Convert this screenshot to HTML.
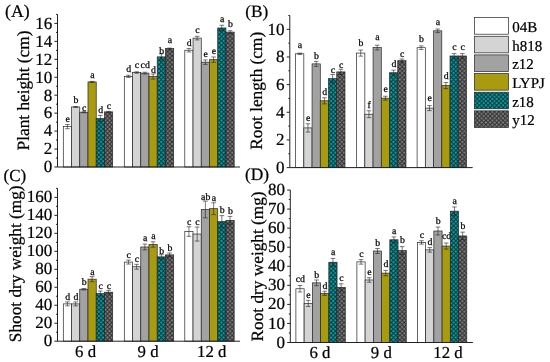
<!DOCTYPE html>
<html lang="en"><head><meta charset="utf-8"><title>Figure</title>
<style>html,body{margin:0;padding:0;background:#fff;}body{width:550px;height:362px;overflow:hidden;font-family:"Liberation Serif", "Times New Roman", serif;}</style>
</head><body>
<svg width="550" height="362" viewBox="0 0 550 362" style="display:block;font-family:'Liberation Serif', 'Times New Roman', serif">
<defs>
<pattern id="pt" width="4.3" height="4.3" patternUnits="userSpaceOnUse"><rect width="4.3" height="4.3" fill="#0fa0a2"/><path d="M0,0L4.3,4.3M4.3,0L0,4.3" stroke="#002c32" stroke-width="0.88" fill="none"/></pattern>
<pattern id="pg" width="4.3" height="4.3" patternUnits="userSpaceOnUse"><rect width="4.3" height="4.3" fill="#7e7e7e"/><path d="M0,0L4.3,4.3M4.3,0L0,4.3" stroke="#2a2a2a" stroke-width="0.95" fill="none"/></pattern>
</defs>
<rect width="550" height="362" fill="#fff"/>
<style>text{stroke:#000;stroke-width:0.22px;fill:#000;text-rendering:geometricPrecision}text.lt{stroke-width:0.25px}</style>
<g id="panelA">
<rect x="63.30" y="126.61" width="8.23" height="40.39" fill="#ffffff" stroke="#262626" stroke-width="0.7"/>
<path d="M67.41,124.50V128.72M65.11,124.50H69.71M65.11,128.72H69.71" stroke="#222" stroke-width="0.6" fill="none"/>
<text x="67.71" y="121.8" font-size="9.8" text-anchor="middle" class="lt">e</text>
<rect x="71.53" y="106.96" width="8.23" height="60.04" fill="#d4d4d4" stroke="#262626" stroke-width="0.7"/>
<path d="M75.64,106.51V107.41M73.34,106.51H77.94M73.34,107.41H77.94" stroke="#222" stroke-width="0.6" fill="none"/>
<text x="75.94" y="103.4" font-size="9.8" text-anchor="middle" class="lt">b</text>
<rect x="79.76" y="112.25" width="8.23" height="54.75" fill="#a2a2a2" stroke="#262626" stroke-width="0.7"/>
<path d="M83.87,111.71V112.79M81.57,111.71H86.17M81.57,112.79H86.17" stroke="#222" stroke-width="0.6" fill="none"/>
<text x="84.17" y="111.1" font-size="9.8" text-anchor="middle" class="lt">c</text>
<rect x="87.99" y="81.92" width="8.23" height="85.08" fill="#a99b10" stroke="#262626" stroke-width="0.7"/>
<path d="M92.10,81.38V82.46M89.80,81.38H94.40M89.80,82.46H94.40" stroke="#222" stroke-width="0.6" fill="none"/>
<text x="92.40" y="77.7" font-size="9.8" text-anchor="middle" class="lt">a</text>
<rect x="96.22" y="118.53" width="8.23" height="48.47" fill="url(#pt)" stroke="#262626" stroke-width="0.7"/>
<path d="M100.33,115.39V121.68M98.03,115.39H102.63M98.03,121.68H102.63" stroke="#222" stroke-width="0.6" fill="none"/>
<text x="100.63" y="113.0" font-size="9.8" text-anchor="middle" class="lt">d</text>
<rect x="104.45" y="111.89" width="8.23" height="55.11" fill="url(#pg)" stroke="#262626" stroke-width="0.7"/>
<path d="M108.56,111.36V112.43M106.27,111.36H110.86M106.27,112.43H110.86" stroke="#222" stroke-width="0.6" fill="none"/>
<text x="108.86" y="109.0" font-size="9.8" text-anchor="middle" class="lt">c</text>
<rect x="124.30" y="76.35" width="8.23" height="90.65" fill="#ffffff" stroke="#262626" stroke-width="0.7"/>
<path d="M128.41,75.28V77.43M126.11,75.28H130.72M126.11,77.43H130.72" stroke="#222" stroke-width="0.6" fill="none"/>
<text x="128.72" y="71.9" font-size="9.8" text-anchor="middle" class="lt">d</text>
<rect x="132.53" y="72.49" width="8.23" height="94.51" fill="#d4d4d4" stroke="#262626" stroke-width="0.7"/>
<path d="M136.65,71.78V73.21M134.34,71.78H138.95M134.34,73.21H138.95" stroke="#222" stroke-width="0.6" fill="none"/>
<text x="136.95" y="67.5" font-size="9.8" text-anchor="middle" class="lt">c</text>
<rect x="140.76" y="73.12" width="8.23" height="93.88" fill="#a2a2a2" stroke="#262626" stroke-width="0.7"/>
<path d="M144.88,72.22V74.02M142.57,72.22H147.18M142.57,74.02H147.18" stroke="#222" stroke-width="0.6" fill="none"/>
<text x="145.18" y="67.5" font-size="9.8" text-anchor="middle" class="lt">cd</text>
<rect x="148.99" y="76.53" width="8.23" height="90.47" fill="#a99b10" stroke="#262626" stroke-width="0.7"/>
<path d="M153.11,74.02V79.05M150.81,74.02H155.41M150.81,79.05H155.41" stroke="#222" stroke-width="0.6" fill="none"/>
<text x="153.41" y="73.2" font-size="9.8" text-anchor="middle" class="lt">d</text>
<rect x="157.22" y="56.88" width="8.23" height="110.12" fill="url(#pt)" stroke="#262626" stroke-width="0.7"/>
<path d="M161.34,53.74V60.02M159.03,53.74H163.64M159.03,60.02H163.64" stroke="#222" stroke-width="0.6" fill="none"/>
<text x="161.64" y="53.5" font-size="9.8" text-anchor="middle" class="lt">b</text>
<rect x="165.45" y="48.62" width="8.23" height="118.38" fill="url(#pg)" stroke="#262626" stroke-width="0.7"/>
<path d="M169.56,48.08V49.16M167.26,48.08H171.87M167.26,49.16H171.87" stroke="#222" stroke-width="0.6" fill="none"/>
<text x="169.87" y="42.7" font-size="9.8" text-anchor="middle" class="lt">a</text>
<rect x="184.80" y="50.24" width="8.23" height="116.76" fill="#ffffff" stroke="#262626" stroke-width="0.7"/>
<path d="M188.92,48.44V52.03M186.62,48.44H191.22M186.62,52.03H191.22" stroke="#222" stroke-width="0.6" fill="none"/>
<text x="189.22" y="46.0" font-size="9.8" text-anchor="middle" class="lt">d</text>
<rect x="193.03" y="38.12" width="8.23" height="128.88" fill="#d4d4d4" stroke="#262626" stroke-width="0.7"/>
<path d="M197.15,36.32V39.91M194.84,36.32H199.45M194.84,39.91H199.45" stroke="#222" stroke-width="0.6" fill="none"/>
<text x="197.45" y="33.3" font-size="9.8" text-anchor="middle" class="lt">c</text>
<rect x="201.26" y="62.17" width="8.23" height="104.83" fill="#a2a2a2" stroke="#262626" stroke-width="0.7"/>
<path d="M205.38,59.93V64.42M203.08,59.93H207.68M203.08,64.42H207.68" stroke="#222" stroke-width="0.6" fill="none"/>
<text x="205.68" y="56.8" font-size="9.8" text-anchor="middle" class="lt">e</text>
<rect x="209.49" y="59.66" width="8.23" height="107.34" fill="#a99b10" stroke="#262626" stroke-width="0.7"/>
<path d="M213.61,56.97V62.35M211.31,56.97H215.91M211.31,62.35H215.91" stroke="#222" stroke-width="0.6" fill="none"/>
<text x="213.91" y="53.7" font-size="9.8" text-anchor="middle" class="lt">e</text>
<rect x="217.72" y="27.98" width="8.23" height="139.02" fill="url(#pt)" stroke="#262626" stroke-width="0.7"/>
<path d="M221.84,25.28V30.67M219.54,25.28H224.14M219.54,30.67H224.14" stroke="#222" stroke-width="0.6" fill="none"/>
<text x="222.14" y="21.8" font-size="9.8" text-anchor="middle" class="lt">a</text>
<rect x="225.95" y="32.11" width="8.23" height="134.89" fill="url(#pg)" stroke="#262626" stroke-width="0.7"/>
<path d="M230.07,30.76V33.45M227.77,30.76H232.37M227.77,33.45H232.37" stroke="#222" stroke-width="0.6" fill="none"/>
<text x="230.37" y="26.7" font-size="9.8" text-anchor="middle" class="lt">b</text>
<path d="M57.50,14.43V167.00H240.00M54.40,167.00H57.50M56.00,158.03H57.50M54.40,149.05H57.50M56.00,140.07H57.50M54.40,131.10H57.50M56.00,122.12H57.50M54.40,113.15H57.50M56.00,104.18H57.50M54.40,95.20H57.50M56.00,86.23H57.50M54.40,77.25H57.50M56.00,68.28H57.50M54.40,59.30H57.50M56.00,50.33H57.50M54.40,41.35H57.50M56.00,32.38H57.50M54.40,23.40H57.50M56.00,14.43H57.50" stroke="#222" stroke-width="1" fill="none"/>
<text x="52.30" y="172.30" font-size="17" text-anchor="end">0</text>
<text x="52.30" y="154.35" font-size="17" text-anchor="end">2</text>
<text x="52.30" y="136.40" font-size="17" text-anchor="end">4</text>
<text x="52.30" y="118.45" font-size="17" text-anchor="end">6</text>
<text x="52.30" y="100.50" font-size="17" text-anchor="end">8</text>
<text x="52.30" y="82.55" font-size="17" text-anchor="end">10</text>
<text x="52.30" y="64.60" font-size="17" text-anchor="end">12</text>
<text x="52.30" y="46.65" font-size="17" text-anchor="end">14</text>
<text x="52.30" y="28.70" font-size="17" text-anchor="end">16</text>
<text transform="translate(29.30,90.50) rotate(-90)" font-size="17.25" text-anchor="middle">Plant height (cm)</text>
<text x="5.00" y="17.10" font-size="17.8">(A)</text>
</g>
<g id="panelB">
<rect x="295.60" y="53.78" width="8.23" height="113.82" fill="#ffffff" stroke="#262626" stroke-width="0.7"/>
<path d="M299.72,53.09V54.47M297.42,53.09H302.02M297.42,54.47H302.02" stroke="#222" stroke-width="0.6" fill="none"/>
<text x="300.02" y="48.0" font-size="9.8" text-anchor="middle" class="lt">a</text>
<rect x="303.83" y="127.91" width="8.23" height="39.69" fill="#d4d4d4" stroke="#262626" stroke-width="0.7"/>
<path d="M307.95,123.76V132.06M305.65,123.76H310.25M305.65,132.06H310.25" stroke="#222" stroke-width="0.6" fill="none"/>
<text x="308.25" y="121.1" font-size="9.8" text-anchor="middle" class="lt">e</text>
<rect x="312.06" y="63.88" width="8.23" height="103.72" fill="#a2a2a2" stroke="#262626" stroke-width="0.7"/>
<path d="M316.18,61.39V66.36M313.88,61.39H318.48M313.88,66.36H318.48" stroke="#222" stroke-width="0.6" fill="none"/>
<text x="316.48" y="59.2" font-size="9.8" text-anchor="middle" class="lt">b</text>
<rect x="320.29" y="100.80" width="8.23" height="66.80" fill="#a99b10" stroke="#262626" stroke-width="0.7"/>
<path d="M324.41,97.76V103.84M322.11,97.76H326.71M322.11,103.84H326.71" stroke="#222" stroke-width="0.6" fill="none"/>
<text x="324.71" y="94.9" font-size="9.8" text-anchor="middle" class="lt">d</text>
<rect x="328.52" y="78.67" width="8.23" height="88.93" fill="url(#pt)" stroke="#262626" stroke-width="0.7"/>
<path d="M332.64,74.52V82.82M330.34,74.52H334.94M330.34,82.82H334.94" stroke="#222" stroke-width="0.6" fill="none"/>
<text x="332.94" y="72.6" font-size="9.8" text-anchor="middle" class="lt">c</text>
<rect x="336.75" y="71.90" width="8.23" height="95.70" fill="url(#pg)" stroke="#262626" stroke-width="0.7"/>
<path d="M340.87,69.27V74.52M338.56,69.27H343.17M338.56,74.52H343.17" stroke="#222" stroke-width="0.6" fill="none"/>
<text x="341.17" y="67.5" font-size="9.8" text-anchor="middle" class="lt">c</text>
<rect x="356.60" y="53.09" width="8.23" height="114.51" fill="#ffffff" stroke="#262626" stroke-width="0.7"/>
<path d="M360.72,50.05V56.13M358.42,50.05H363.02M358.42,56.13H363.02" stroke="#222" stroke-width="0.6" fill="none"/>
<text x="361.02" y="46.0" font-size="9.8" text-anchor="middle" class="lt">b</text>
<rect x="364.83" y="114.22" width="8.23" height="53.38" fill="#d4d4d4" stroke="#262626" stroke-width="0.7"/>
<path d="M368.95,110.76V117.67M366.65,110.76H371.25M366.65,117.67H371.25" stroke="#222" stroke-width="0.6" fill="none"/>
<text x="369.25" y="108.1" font-size="9.8" text-anchor="middle" class="lt">f</text>
<rect x="373.06" y="47.56" width="8.23" height="120.04" fill="#a2a2a2" stroke="#262626" stroke-width="0.7"/>
<path d="M377.18,45.20V49.91M374.88,45.20H379.48M374.88,49.91H379.48" stroke="#222" stroke-width="0.6" fill="none"/>
<text x="377.48" y="40.0" font-size="9.8" text-anchor="middle" class="lt">a</text>
<rect x="381.29" y="98.17" width="8.23" height="69.43" fill="#a99b10" stroke="#262626" stroke-width="0.7"/>
<path d="M385.41,96.24V100.11M383.11,96.24H387.71M383.11,100.11H387.71" stroke="#222" stroke-width="0.6" fill="none"/>
<text x="385.71" y="91.5" font-size="9.8" text-anchor="middle" class="lt">e</text>
<rect x="389.52" y="72.73" width="8.23" height="94.87" fill="url(#pt)" stroke="#262626" stroke-width="0.7"/>
<path d="M393.64,70.10V75.35M391.34,70.10H395.94M391.34,75.35H395.94" stroke="#222" stroke-width="0.6" fill="none"/>
<text x="393.94" y="66.7" font-size="9.8" text-anchor="middle" class="lt">d</text>
<rect x="397.75" y="60.69" width="8.23" height="106.91" fill="url(#pg)" stroke="#262626" stroke-width="0.7"/>
<path d="M401.87,59.03V62.35M399.56,59.03H404.17M399.56,62.35H404.17" stroke="#222" stroke-width="0.6" fill="none"/>
<text x="402.17" y="56.6" font-size="9.8" text-anchor="middle" class="lt">c</text>
<rect x="417.10" y="47.69" width="8.23" height="119.91" fill="#ffffff" stroke="#262626" stroke-width="0.7"/>
<path d="M421.22,45.90V49.49M418.92,45.90H423.52M418.92,49.49H423.52" stroke="#222" stroke-width="0.6" fill="none"/>
<text x="421.52" y="42.1" font-size="9.8" text-anchor="middle" class="lt">b</text>
<rect x="425.33" y="108.13" width="8.23" height="59.47" fill="#d4d4d4" stroke="#262626" stroke-width="0.7"/>
<path d="M429.45,105.64V110.62M427.15,105.64H431.75M427.15,110.62H431.75" stroke="#222" stroke-width="0.6" fill="none"/>
<text x="429.75" y="100.8" font-size="9.8" text-anchor="middle" class="lt">e</text>
<rect x="433.56" y="30.82" width="8.23" height="136.78" fill="#a2a2a2" stroke="#262626" stroke-width="0.7"/>
<path d="M437.68,29.02V32.62M435.38,29.02H439.98M435.38,32.62H439.98" stroke="#222" stroke-width="0.6" fill="none"/>
<text x="437.98" y="24.7" font-size="9.8" text-anchor="middle" class="lt">a</text>
<rect x="441.79" y="85.59" width="8.23" height="82.01" fill="#a99b10" stroke="#262626" stroke-width="0.7"/>
<path d="M445.91,82.55V88.63M443.61,82.55H448.21M443.61,88.63H448.21" stroke="#222" stroke-width="0.6" fill="none"/>
<text x="446.21" y="78.6" font-size="9.8" text-anchor="middle" class="lt">d</text>
<rect x="450.02" y="55.99" width="8.23" height="111.61" fill="url(#pt)" stroke="#262626" stroke-width="0.7"/>
<path d="M454.14,53.64V58.34M451.84,53.64H456.44M451.84,58.34H456.44" stroke="#222" stroke-width="0.6" fill="none"/>
<text x="454.44" y="50.1" font-size="9.8" text-anchor="middle" class="lt">c</text>
<rect x="458.25" y="55.99" width="8.23" height="111.61" fill="url(#pg)" stroke="#262626" stroke-width="0.7"/>
<path d="M462.37,53.64V58.34M460.06,53.64H464.67M460.06,58.34H464.67" stroke="#222" stroke-width="0.6" fill="none"/>
<text x="462.67" y="50.1" font-size="9.8" text-anchor="middle" class="lt">c</text>
<path d="M289.80,15.47V167.60H472.70M286.70,167.60H289.80M288.30,153.77H289.80M286.70,139.94H289.80M288.30,126.11H289.80M286.70,112.28H289.80M288.30,98.45H289.80M286.70,84.62H289.80M288.30,70.79H289.80M286.70,56.96H289.80M288.30,43.13H289.80M286.70,29.30H289.80M288.30,15.47H289.80" stroke="#222" stroke-width="1" fill="none"/>
<text x="284.60" y="173.00" font-size="17" text-anchor="end">0</text>
<text x="284.60" y="145.34" font-size="17" text-anchor="end">2</text>
<text x="284.60" y="117.68" font-size="17" text-anchor="end">4</text>
<text x="284.60" y="90.02" font-size="17" text-anchor="end">6</text>
<text x="284.60" y="62.36" font-size="17" text-anchor="end">8</text>
<text x="284.60" y="34.70" font-size="17" text-anchor="end">10</text>
<text transform="translate(261.60,90.80) rotate(-90)" font-size="17.25" text-anchor="middle">Root length (cm)</text>
<text x="245.20" y="16.70" font-size="17.3">(B)</text>
</g>
<g id="panelC">
<rect x="63.30" y="303.89" width="8.23" height="37.31" fill="#ffffff" stroke="#262626" stroke-width="0.7"/>
<path d="M67.41,301.91V305.87M65.11,301.91H69.71M65.11,305.87H69.71" stroke="#222" stroke-width="0.6" fill="none"/>
<text x="67.71" y="300.3" font-size="9.8" text-anchor="middle" class="lt">d</text>
<rect x="71.53" y="303.89" width="8.23" height="37.31" fill="#d4d4d4" stroke="#262626" stroke-width="0.7"/>
<path d="M75.64,301.91V305.87M73.34,301.91H77.94M73.34,305.87H77.94" stroke="#222" stroke-width="0.6" fill="none"/>
<text x="75.94" y="300.3" font-size="9.8" text-anchor="middle" class="lt">d</text>
<rect x="79.76" y="289.24" width="8.23" height="51.96" fill="#a2a2a2" stroke="#262626" stroke-width="0.7"/>
<path d="M83.87,288.52V289.96M81.57,288.52H86.17M81.57,289.96H86.17" stroke="#222" stroke-width="0.6" fill="none"/>
<text x="84.17" y="285.3" font-size="9.8" text-anchor="middle" class="lt">b</text>
<rect x="87.99" y="279.17" width="8.23" height="62.03" fill="#a99b10" stroke="#262626" stroke-width="0.7"/>
<path d="M92.10,276.65V281.69M89.80,276.65H94.40M89.80,281.69H94.40" stroke="#222" stroke-width="0.6" fill="none"/>
<text x="92.40" y="274.7" font-size="9.8" text-anchor="middle" class="lt">a</text>
<rect x="96.22" y="293.55" width="8.23" height="47.65" fill="url(#pt)" stroke="#262626" stroke-width="0.7"/>
<path d="M100.33,291.04V296.07M98.03,291.04H102.63M98.03,296.07H102.63" stroke="#222" stroke-width="0.6" fill="none"/>
<text x="100.63" y="289.3" font-size="9.8" text-anchor="middle" class="lt">c</text>
<rect x="104.45" y="292.20" width="8.23" height="49.00" fill="url(#pg)" stroke="#262626" stroke-width="0.7"/>
<path d="M108.56,290.32V294.09M106.27,290.32H110.86M106.27,294.09H110.86" stroke="#222" stroke-width="0.6" fill="none"/>
<text x="108.86" y="288.5" font-size="9.8" text-anchor="middle" class="lt">c</text>
<rect x="124.30" y="262.09" width="8.23" height="79.11" fill="#ffffff" stroke="#262626" stroke-width="0.7"/>
<path d="M128.41,260.11V264.07M126.11,260.11H130.72M126.11,264.07H130.72" stroke="#222" stroke-width="0.6" fill="none"/>
<text x="128.72" y="257.5" font-size="9.8" text-anchor="middle" class="lt">c</text>
<rect x="132.53" y="266.76" width="8.23" height="74.44" fill="#d4d4d4" stroke="#262626" stroke-width="0.7"/>
<path d="M136.65,264.34V269.19M134.34,264.34H138.95M134.34,269.19H138.95" stroke="#222" stroke-width="0.6" fill="none"/>
<text x="136.95" y="261.9" font-size="9.8" text-anchor="middle" class="lt">c</text>
<rect x="140.76" y="246.98" width="8.23" height="94.22" fill="#a2a2a2" stroke="#262626" stroke-width="0.7"/>
<path d="M144.88,244.11V249.86M142.57,244.11H147.18M142.57,249.86H147.18" stroke="#222" stroke-width="0.6" fill="none"/>
<text x="145.18" y="240.9" font-size="9.8" text-anchor="middle" class="lt">a</text>
<rect x="148.99" y="244.47" width="8.23" height="96.73" fill="#a99b10" stroke="#262626" stroke-width="0.7"/>
<path d="M153.11,241.77V247.16M150.81,241.77H155.41M150.81,247.16H155.41" stroke="#222" stroke-width="0.6" fill="none"/>
<text x="153.41" y="239.0" font-size="9.8" text-anchor="middle" class="lt">a</text>
<rect x="157.22" y="256.87" width="8.23" height="84.33" fill="url(#pt)" stroke="#262626" stroke-width="0.7"/>
<path d="M161.34,254.63V259.12M159.03,254.63H163.64M159.03,259.12H163.64" stroke="#222" stroke-width="0.6" fill="none"/>
<text x="161.64" y="253.7" font-size="9.8" text-anchor="middle" class="lt">b</text>
<rect x="165.45" y="254.90" width="8.23" height="86.30" fill="url(#pg)" stroke="#262626" stroke-width="0.7"/>
<path d="M169.56,253.01V256.78M167.26,253.01H171.87M167.26,256.78H171.87" stroke="#222" stroke-width="0.6" fill="none"/>
<text x="169.87" y="250.5" font-size="9.8" text-anchor="middle" class="lt">b</text>
<rect x="184.80" y="231.52" width="8.23" height="109.68" fill="#ffffff" stroke="#262626" stroke-width="0.7"/>
<path d="M188.92,226.76V236.29M186.62,226.76H191.22M186.62,236.29H191.22" stroke="#222" stroke-width="0.6" fill="none"/>
<text x="189.22" y="224.9" font-size="9.8" text-anchor="middle" class="lt">c</text>
<rect x="193.03" y="234.04" width="8.23" height="107.16" fill="#d4d4d4" stroke="#262626" stroke-width="0.7"/>
<path d="M197.15,227.03V241.05M194.84,227.03H199.45M194.84,241.05H199.45" stroke="#222" stroke-width="0.6" fill="none"/>
<text x="197.45" y="224.9" font-size="9.8" text-anchor="middle" class="lt">c</text>
<rect x="201.26" y="209.50" width="8.23" height="131.70" fill="#a2a2a2" stroke="#262626" stroke-width="0.7"/>
<path d="M205.38,201.14V217.86M203.08,201.14H207.68M203.08,217.86H207.68" stroke="#222" stroke-width="0.6" fill="none"/>
<text x="205.68" y="199.5" font-size="9.8" text-anchor="middle" class="lt">ab</text>
<rect x="209.49" y="208.69" width="8.23" height="132.51" fill="#a99b10" stroke="#262626" stroke-width="0.7"/>
<path d="M213.61,202.75V214.62M211.31,202.75H215.91M211.31,214.62H215.91" stroke="#222" stroke-width="0.6" fill="none"/>
<text x="213.91" y="201.1" font-size="9.8" text-anchor="middle" class="lt">a</text>
<rect x="217.72" y="221.63" width="8.23" height="119.57" fill="url(#pt)" stroke="#262626" stroke-width="0.7"/>
<path d="M221.84,215.61V227.66M219.54,215.61H224.14M219.54,227.66H224.14" stroke="#222" stroke-width="0.6" fill="none"/>
<text x="222.14" y="212.9" font-size="9.8" text-anchor="middle" class="lt">b</text>
<rect x="225.95" y="220.37" width="8.23" height="120.83" fill="url(#pg)" stroke="#262626" stroke-width="0.7"/>
<path d="M230.07,216.42V224.33M227.77,216.42H232.37M227.77,224.33H232.37" stroke="#222" stroke-width="0.6" fill="none"/>
<text x="230.37" y="214.2" font-size="9.8" text-anchor="middle" class="lt">b</text>
<path d="M57.50,188.37V341.20H240.00M54.40,341.20H57.50M56.00,332.21H57.50M54.40,323.22H57.50M56.00,314.23H57.50M54.40,305.24H57.50M56.00,296.25H57.50M54.40,287.26H57.50M56.00,278.27H57.50M54.40,269.28H57.50M56.00,260.29H57.50M54.40,251.30H57.50M56.00,242.31H57.50M54.40,233.32H57.50M56.00,224.33H57.50M54.40,215.34H57.50M56.00,206.35H57.50M54.40,197.36H57.50M56.00,188.37H57.50" stroke="#222" stroke-width="1" fill="none"/>
<text x="52.30" y="346.20" font-size="17" text-anchor="end">0</text>
<text x="52.30" y="328.22" font-size="17" text-anchor="end">20</text>
<text x="52.30" y="310.24" font-size="17" text-anchor="end">40</text>
<text x="52.30" y="292.26" font-size="17" text-anchor="end">60</text>
<text x="52.30" y="274.28" font-size="17" text-anchor="end">80</text>
<text x="52.30" y="256.30" font-size="17" text-anchor="end">100</text>
<text x="52.30" y="238.32" font-size="17" text-anchor="end">120</text>
<text x="52.30" y="220.34" font-size="17" text-anchor="end">140</text>
<text x="52.30" y="202.36" font-size="17" text-anchor="end">160</text>
<text transform="translate(20.90,263.80) rotate(-90)" font-size="17.25" text-anchor="middle">Shoot dry weight (mg)</text>
<text x="3.60" y="180.60" font-size="17.0">(C)</text>
<text x="85.60" y="357.2" font-size="16.8" text-anchor="middle">6 d</text>
<text x="148.10" y="357.2" font-size="16.8" text-anchor="middle">9 d</text>
<text x="211.80" y="357.2" font-size="16.8" text-anchor="middle">12 d</text>
</g>
<g id="panelD">
<rect x="295.90" y="288.75" width="8.23" height="53.75" fill="#ffffff" stroke="#262626" stroke-width="0.7"/>
<path d="M300.01,285.51V291.99M297.71,285.51H302.31M297.71,291.99H302.31" stroke="#222" stroke-width="0.6" fill="none"/>
<text x="300.31" y="282.1" font-size="9.8" text-anchor="middle" class="lt">cd</text>
<rect x="304.13" y="303.43" width="8.23" height="39.07" fill="#d4d4d4" stroke="#262626" stroke-width="0.7"/>
<path d="M308.25,300.38V306.48M305.94,300.38H310.55M305.94,306.48H310.55" stroke="#222" stroke-width="0.6" fill="none"/>
<text x="308.55" y="297.5" font-size="9.8" text-anchor="middle" class="lt">e</text>
<rect x="312.36" y="282.84" width="8.23" height="59.66" fill="#a2a2a2" stroke="#262626" stroke-width="0.7"/>
<path d="M316.47,279.98V285.70M314.17,279.98H318.77M314.17,285.70H318.77" stroke="#222" stroke-width="0.6" fill="none"/>
<text x="316.77" y="277.7" font-size="9.8" text-anchor="middle" class="lt">b</text>
<rect x="320.59" y="293.33" width="8.23" height="49.17" fill="#a99b10" stroke="#262626" stroke-width="0.7"/>
<path d="M324.70,291.23V295.42M322.40,291.23H327.00M322.40,295.42H327.00" stroke="#222" stroke-width="0.6" fill="none"/>
<text x="325.00" y="288.7" font-size="9.8" text-anchor="middle" class="lt">d</text>
<rect x="328.82" y="262.26" width="8.23" height="80.24" fill="url(#pt)" stroke="#262626" stroke-width="0.7"/>
<path d="M332.94,258.45V266.07M330.63,258.45H335.24M330.63,266.07H335.24" stroke="#222" stroke-width="0.6" fill="none"/>
<text x="333.24" y="254.8" font-size="9.8" text-anchor="middle" class="lt">a</text>
<rect x="337.05" y="287.42" width="8.23" height="55.08" fill="url(#pg)" stroke="#262626" stroke-width="0.7"/>
<path d="M341.16,283.80V291.04M338.86,283.80H343.46M338.86,291.04H343.46" stroke="#222" stroke-width="0.6" fill="none"/>
<text x="341.46" y="280.8" font-size="9.8" text-anchor="middle" class="lt">c</text>
<rect x="356.90" y="261.88" width="8.23" height="80.62" fill="#ffffff" stroke="#262626" stroke-width="0.7"/>
<path d="M361.01,259.59V264.16M358.71,259.59H363.31M358.71,264.16H363.31" stroke="#222" stroke-width="0.6" fill="none"/>
<text x="361.31" y="256.6" font-size="9.8" text-anchor="middle" class="lt">c</text>
<rect x="365.13" y="279.98" width="8.23" height="62.52" fill="#d4d4d4" stroke="#262626" stroke-width="0.7"/>
<path d="M369.25,277.70V282.27M366.94,277.70H371.55M366.94,282.27H371.55" stroke="#222" stroke-width="0.6" fill="none"/>
<text x="369.55" y="274.5" font-size="9.8" text-anchor="middle" class="lt">e</text>
<rect x="373.36" y="251.01" width="8.23" height="91.49" fill="#a2a2a2" stroke="#262626" stroke-width="0.7"/>
<path d="M377.47,248.53V253.49M375.17,248.53H379.77M375.17,253.49H379.77" stroke="#222" stroke-width="0.6" fill="none"/>
<text x="377.77" y="245.5" font-size="9.8" text-anchor="middle" class="lt">b</text>
<rect x="381.59" y="273.12" width="8.23" height="69.38" fill="#a99b10" stroke="#262626" stroke-width="0.7"/>
<path d="M385.70,270.45V275.79M383.40,270.45H388.00M383.40,275.79H388.00" stroke="#222" stroke-width="0.6" fill="none"/>
<text x="386.00" y="266.6" font-size="9.8" text-anchor="middle" class="lt">d</text>
<rect x="389.82" y="239.77" width="8.23" height="102.73" fill="url(#pt)" stroke="#262626" stroke-width="0.7"/>
<path d="M393.94,236.91V242.63M391.63,236.91H396.24M391.63,242.63H396.24" stroke="#222" stroke-width="0.6" fill="none"/>
<text x="394.24" y="234.0" font-size="9.8" text-anchor="middle" class="lt">a</text>
<rect x="398.05" y="250.63" width="8.23" height="91.87" fill="url(#pg)" stroke="#262626" stroke-width="0.7"/>
<path d="M402.16,246.63V254.63M399.86,246.63H404.46M399.86,254.63H404.46" stroke="#222" stroke-width="0.6" fill="none"/>
<text x="402.46" y="242.9" font-size="9.8" text-anchor="middle" class="lt">b</text>
<rect x="417.40" y="242.44" width="8.23" height="100.06" fill="#ffffff" stroke="#262626" stroke-width="0.7"/>
<path d="M421.51,240.72V244.15M419.21,240.72H423.81M419.21,244.15H423.81" stroke="#222" stroke-width="0.6" fill="none"/>
<text x="421.81" y="237.9" font-size="9.8" text-anchor="middle" class="lt">c</text>
<rect x="425.63" y="249.87" width="8.23" height="92.63" fill="#d4d4d4" stroke="#262626" stroke-width="0.7"/>
<path d="M429.75,247.58V252.16M427.44,247.58H432.05M427.44,252.16H432.05" stroke="#222" stroke-width="0.6" fill="none"/>
<text x="430.05" y="245.2" font-size="9.8" text-anchor="middle" class="lt">d</text>
<rect x="433.86" y="231.00" width="8.23" height="111.50" fill="#a2a2a2" stroke="#262626" stroke-width="0.7"/>
<path d="M437.97,227.00V235.00M435.67,227.00H440.27M435.67,235.00H440.27" stroke="#222" stroke-width="0.6" fill="none"/>
<text x="438.27" y="223.6" font-size="9.8" text-anchor="middle" class="lt">b</text>
<rect x="442.09" y="246.06" width="8.23" height="96.44" fill="#a99b10" stroke="#262626" stroke-width="0.7"/>
<path d="M446.20,243.01V249.11M443.90,243.01H448.50M443.90,249.11H448.50" stroke="#222" stroke-width="0.6" fill="none"/>
<text x="446.50" y="238.8" font-size="9.8" text-anchor="middle" class="lt">cd</text>
<rect x="450.32" y="211.18" width="8.23" height="131.32" fill="url(#pt)" stroke="#262626" stroke-width="0.7"/>
<path d="M454.44,206.98V215.37M452.13,206.98H456.74M452.13,215.37H456.74" stroke="#222" stroke-width="0.6" fill="none"/>
<text x="454.74" y="203.7" font-size="9.8" text-anchor="middle" class="lt">a</text>
<rect x="458.55" y="235.95" width="8.23" height="106.55" fill="url(#pg)" stroke="#262626" stroke-width="0.7"/>
<path d="M462.66,232.14V239.77M460.36,232.14H464.96M460.36,239.77H464.96" stroke="#222" stroke-width="0.6" fill="none"/>
<text x="462.96" y="229.0" font-size="9.8" text-anchor="middle" class="lt">b</text>
<path d="M290.30,190.02V342.50H472.90M287.20,342.50H290.30M288.80,332.97H290.30M287.20,323.44H290.30M288.80,313.91H290.30M287.20,304.38H290.30M288.80,294.85H290.30M287.20,285.32H290.30M288.80,275.79H290.30M287.20,266.26H290.30M288.80,256.73H290.30M287.20,247.20H290.30M288.80,237.67H290.30M287.20,228.14H290.30M288.80,218.61H290.30M287.20,209.08H290.30M288.80,199.55H290.30M287.20,190.02H290.30" stroke="#222" stroke-width="1" fill="none"/>
<text x="285.10" y="347.60" font-size="17" text-anchor="end">0</text>
<text x="285.10" y="328.54" font-size="17" text-anchor="end">10</text>
<text x="285.10" y="309.48" font-size="17" text-anchor="end">20</text>
<text x="285.10" y="290.42" font-size="17" text-anchor="end">30</text>
<text x="285.10" y="271.36" font-size="17" text-anchor="end">40</text>
<text x="285.10" y="252.30" font-size="17" text-anchor="end">50</text>
<text x="285.10" y="233.24" font-size="17" text-anchor="end">60</text>
<text x="285.10" y="214.18" font-size="17" text-anchor="end">70</text>
<text x="285.10" y="195.12" font-size="17" text-anchor="end">80</text>
<text transform="translate(262.80,266.40) rotate(-90)" font-size="17.25" text-anchor="middle">Root dry weight (mg)</text>
<text x="245.00" y="180.20" font-size="17.4">(D)</text>
<text x="320.00" y="357.7" font-size="16.8" text-anchor="middle">6 d</text>
<text x="381.30" y="357.7" font-size="16.8" text-anchor="middle">9 d</text>
<text x="448.00" y="357.7" font-size="16.8" text-anchor="middle">12 d</text>
</g>
<g id="legend">
<rect x="474.4" y="17.60" width="34" height="16.6" fill="#ffffff" stroke="#262626" stroke-width="0.7"/>
<text x="512.2" y="31.90" font-size="15">04B</text>
<rect x="474.4" y="36.25" width="34" height="16.6" fill="#d4d4d4" stroke="#262626" stroke-width="0.7"/>
<text x="512.2" y="50.55" font-size="15">h818</text>
<rect x="474.4" y="54.90" width="34" height="16.6" fill="#a2a2a2" stroke="#262626" stroke-width="0.7"/>
<text x="512.2" y="69.20" font-size="15">z12</text>
<rect x="474.4" y="73.55" width="34" height="16.6" fill="#a99b10" stroke="#262626" stroke-width="0.7"/>
<text x="512.2" y="87.85" font-size="15">LYPJ</text>
<rect x="474.4" y="92.20" width="34" height="16.6" fill="url(#pt)" stroke="#262626" stroke-width="0.7"/>
<text x="512.2" y="106.50" font-size="15">z18</text>
<rect x="474.4" y="110.85" width="34" height="16.6" fill="url(#pg)" stroke="#262626" stroke-width="0.7"/>
<text x="512.2" y="125.15" font-size="15">y12</text>
</g>
</svg>
</body></html>
